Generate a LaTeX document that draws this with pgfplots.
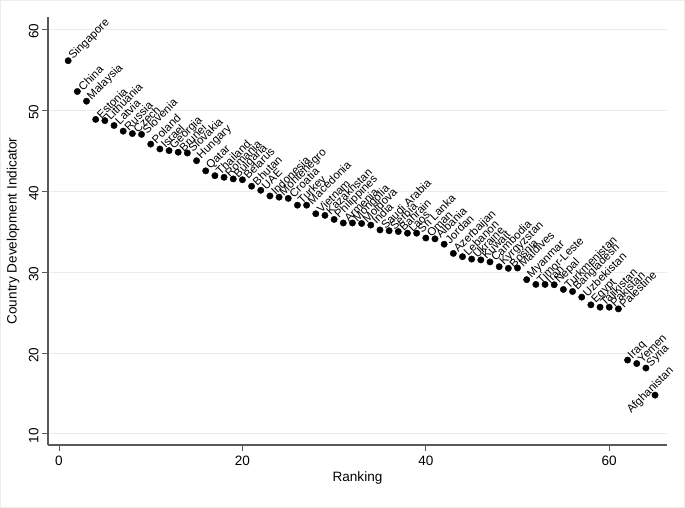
\documentclass[border=0pt]{standalone}
\usepackage{fontspec}
\setmainfont{Liberation Sans}
\usepackage{pgfplots}
\usepackage{pgfplotstable}
\pgfplotsset{compat=1.18}

\pgfplotstableread[col sep=comma,row sep=\\]{
r,v,name\\
1,56.1,Singapore\\
2,52.3,China\\
3,51.1,Malaysia\\
4,48.85,Estonia\\
5,48.7,Lithuania\\
6,48.1,Latvia\\
7,47.4,Russia\\
8,47.1,Czech\\
9,47.0,Slovenia\\
10,45.8,Poland\\
11,45.2,Israel\\
12,45.0,Georgia\\
13,44.8,Brunei\\
14,44.7,Slovakia\\
15,43.75,Hungary\\
16,42.5,Qatar\\
17,41.9,Thailand\\
18,41.7,Romania\\
19,41.5,Bulgaria\\
20,41.4,Belarus\\
21,40.6,Bhutan\\
22,40.1,UAE\\
23,39.4,Indonesia\\
24,39.25,Montenegro\\
25,39.1,Croatia\\
26,38.26,Turkey\\
27,38.26,Macedonia\\
28,37.2,Vietnam\\
29,37.0,Kazakhstan\\
30,36.5,Philippines\\
31,36.06,Armenia\\
32,36.06,Mongolia\\
33,36.0,Moldova\\
34,35.8,India\\
35,35.2,Saudi Arabia\\
36,35.1,Serbia\\
37,35.0,Bahrain\\
38,34.8,Laos\\
39,34.8,Sri Lanka\\
40,34.2,Oman\\
41,34.1,Albania\\
42,33.44,Jordan\\
43,32.3,Azerbaijan\\
44,31.9,Lebanon\\
45,31.6,Ukraine\\
46,31.5,Kuwait\\
47,31.25,Cambodia\\
48,30.66,Kyrgyzstan\\
49,30.46,Bosnia\\
50,30.5,Maldives\\
51,29.06,Myanmar\\
52,28.47,Timor-Leste\\
53,28.47,Iran\\
54,28.43,Nepal\\
55,27.85,Turkmenistan\\
56,27.6,Bangladesh\\
57,26.9,Uzbekistan\\
58,25.95,Egypt\\
59,25.66,Tajikistan\\
60,25.66,Pakistan\\
61,25.45,Palestine\\
62,19.13,Iraq\\
63,18.7,Yemen\\
64,18.14,Syria\\
}\data

\pgfplotstableread[col sep=comma,row sep=\\]{
r,v,name\\
65,14.8,Afghanistan\\
}\dataafg

\begin{document}
\begin{tikzpicture}
\begin{axis}[
  scale only axis,
  width=619bp, height=428bp,
  xmin=-1.2, xmax=66.3,
  ymin=8.64, ymax=61.5,
  axis lines*=left,
  axis line style={black!65, line width=1.1bp},
  xtick={0,20,40,60},
  ytick={10,20,30,40,50,60},
  ymajorgrids,
  grid style={black!8, line width=1bp},
  tick align=outside,
  major tick length=6bp,
  tick style={black!65, line width=1bp},
  /pgf/number format/assume math mode=true,
  tick label style={font=\fontsize{13.6}{15}\selectfont},
  yticklabel style={rotate=90, anchor=south, xshift=-2bp},
  xticklabel style={yshift=-2bp},
  xlabel={Ranking},
  ylabel={Country Development Indicator},
  label style={font=\fontsize{13.6}{15}\selectfont},
  xlabel style={at={(axis description cs:0.5,-0.077)}, anchor=center},
  ylabel style={at={(axis description cs:-0.0565,0.5)}, anchor=center},
  clip=false,
]
\addplot[only marks, mark=*, mark size=3.2bp, black,
  point meta=explicit symbolic,
  nodes near coords,
  nodes near coords style={anchor=west, rotate=45, inner sep=0pt, xshift=4bp,
    font=\fontsize{11.4}{12}\selectfont, text=black}]
  table[x=r, y=v, meta=name] {\data};
\addplot[only marks, mark=*, mark size=3.2bp, black,
  point meta=explicit symbolic,
  nodes near coords,
  nodes near coords style={anchor=south, rotate=45, inner sep=1bp,
    font=\fontsize{11.4}{12}\selectfont, text=black}]
  table[x=r, y=v, meta=name] {\dataafg};
\end{axis}
\pgfresetboundingbox
\path[use as bounding box] ([shift={(-48bp,-63bp)}]current axis.south west) rectangle ++(685bp,508bp);
\draw[black!7, line width=1bp] ([shift={(-47.5bp,-62.5bp)}]current axis.south west) rectangle ++(684bp,507bp);
\end{tikzpicture}
\end{document}
